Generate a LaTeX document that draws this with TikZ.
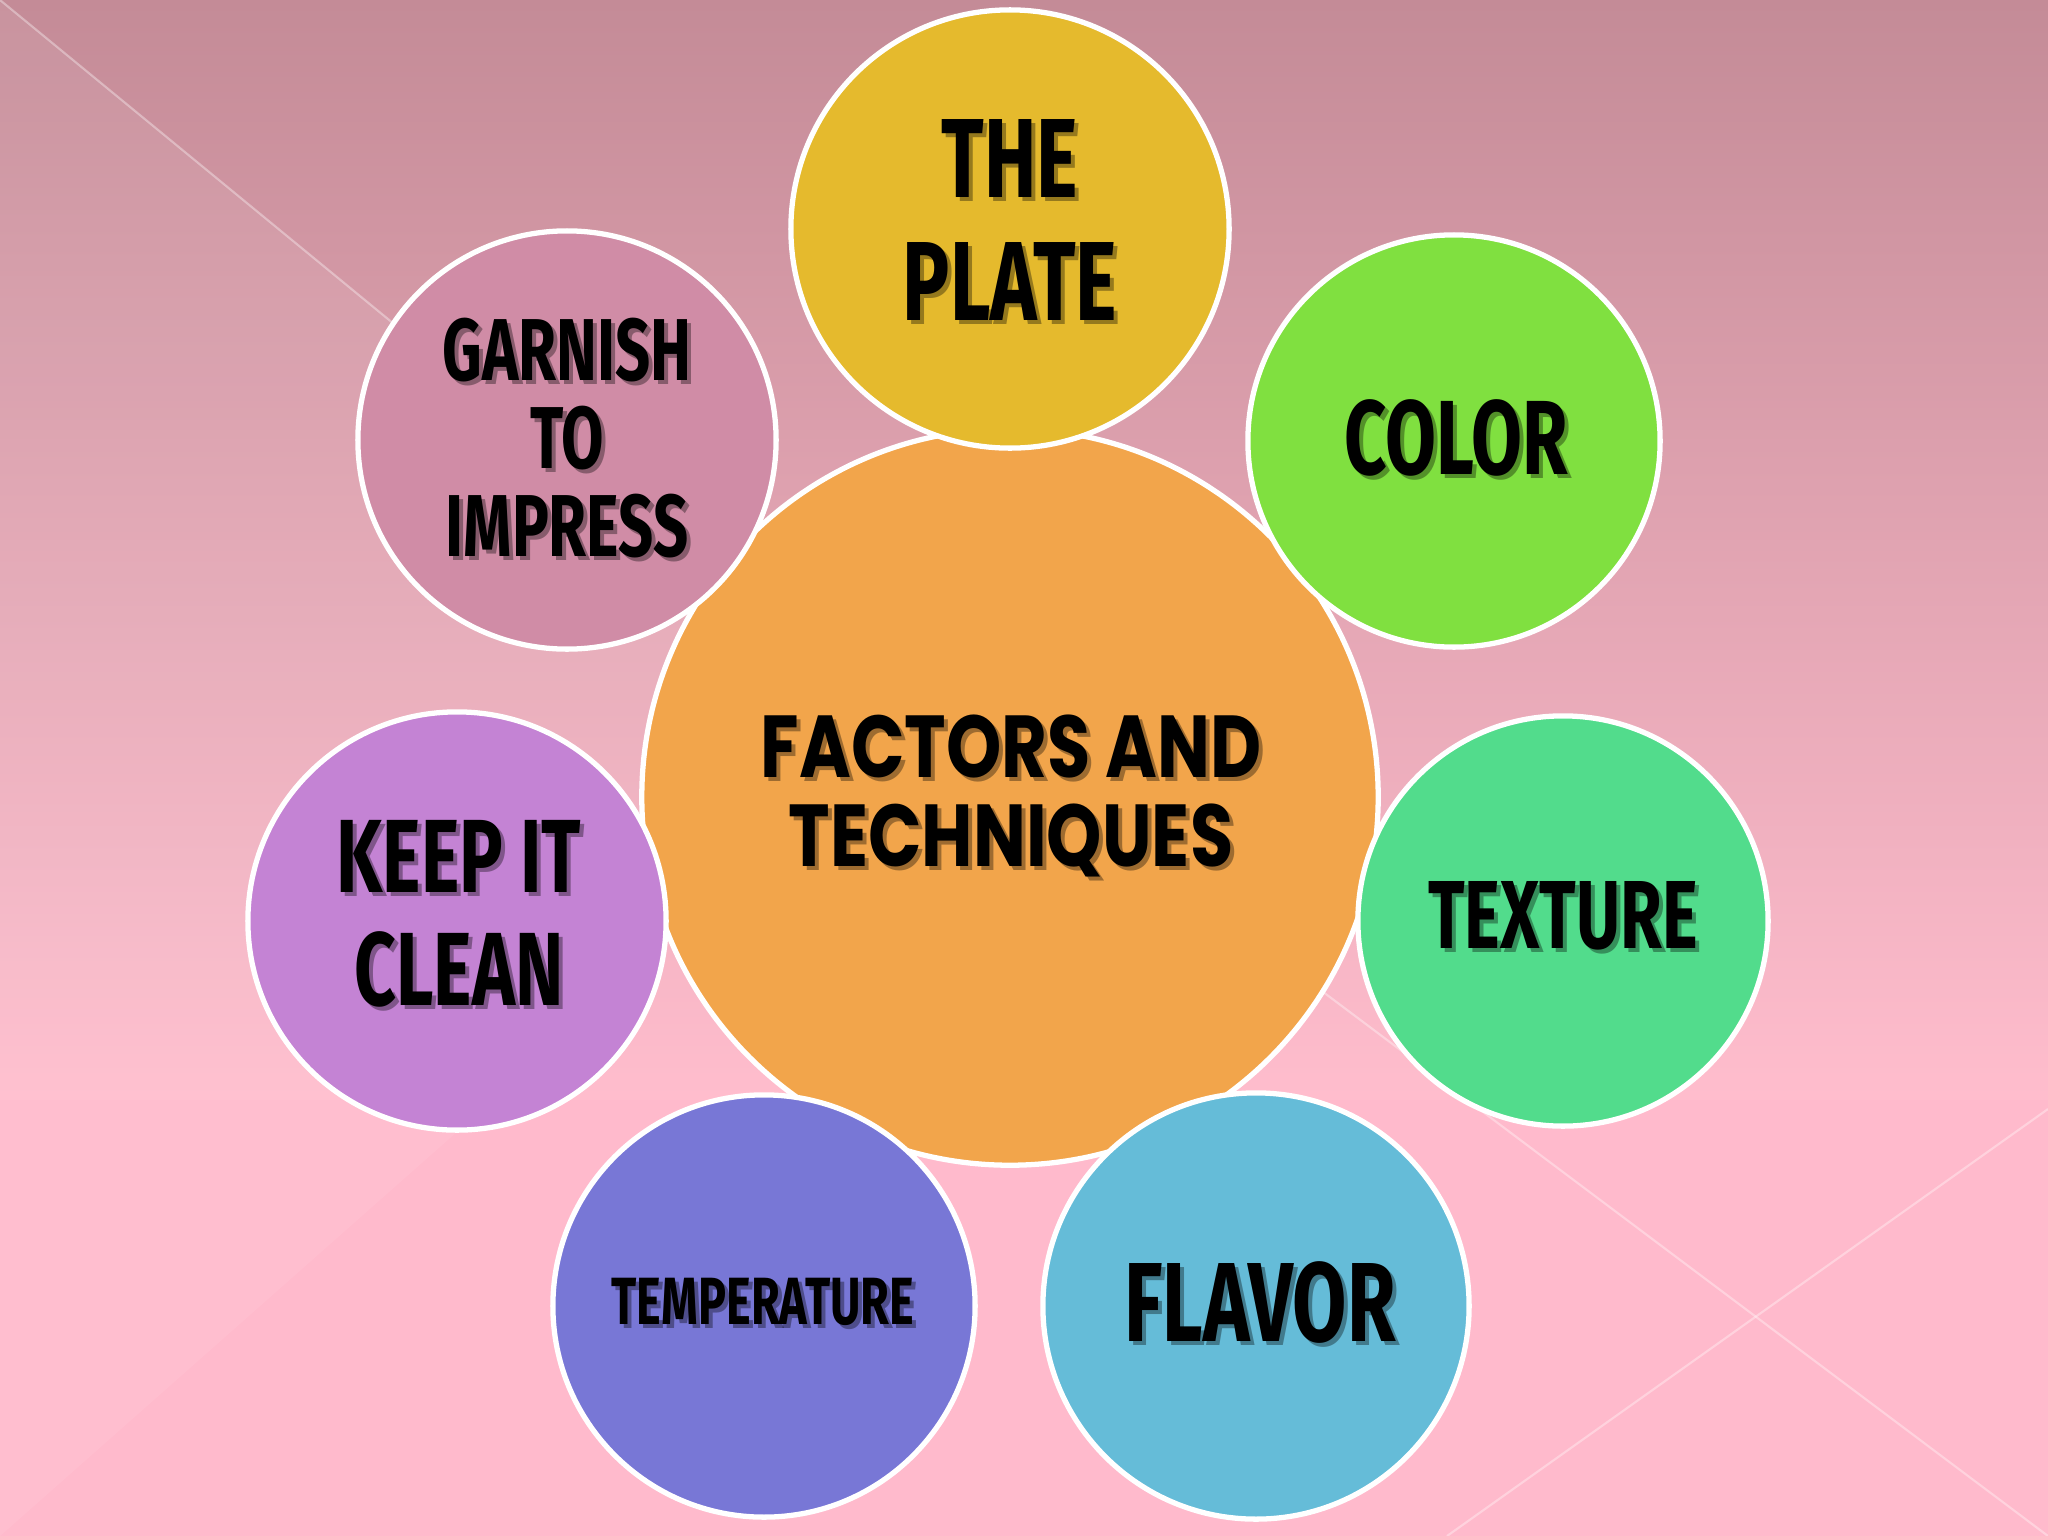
\documentclass[tikz,border=0pt]{standalone}
\usepackage{fontspec}
\newfontfamily\handfont{Fira Sans}[FakeStretch=0.7]
\newfontfamily\headfont{Poppins}[FakeStretch=0.8]
\definecolor{bgtop}{HTML}{C48B97}
\definecolor{bgmid}{HTML}{FFBDCD}
\definecolor{bgbot}{HTML}{FFBACC}
\definecolor{cplate}{HTML}{E5BA2D}
\definecolor{ccolor}{HTML}{80E040}
\definecolor{ctexture}{HTML}{52DC8C}
\definecolor{cflavor}{HTML}{65BCD8}
\definecolor{ctemp}{HTML}{7877D6}
\definecolor{ckeep}{HTML}{C483D4}
\definecolor{cgarnish}{HTML}{D08CA6}
\definecolor{ccenter}{HTML}{F2A54B}
\newcommand\bubtext[5]{%
  \node[shd, font=\handfont\bfseries\fontsize{#3}{#4}\selectfont] (#1-s) at ([shift={(4,4)}]#2) {#5};
  \node[txt, font=\handfont\bfseries\fontsize{#3}{#4}\selectfont] (#1-t) at (#2) {#5};
}
\begin{document}
\begin{tikzpicture}[x=0.01cm,y=-0.01cm,
  bub/.style={circle, draw=white, line width=1.5pt, inner sep=0pt},
  txt/.style={align=center, text=black, inner sep=0pt},
  shd/.style={align=center, text=black, text opacity=0.35, inner sep=0pt},
  bgline/.style={draw=white, draw opacity=0.35, line width=0.6pt}]
\useasboundingbox (0,0) rectangle (2048,1536);
% background
\shade[top color=bgtop, bottom color=bgmid] (0,0) rectangle (2048,1100);
\fill[bgbot] (0,1100) rectangle (2048,1536);
\coordinate (l0) at (0,0);
\coordinate (l1) at (900,740);
\fill[white, opacity=0.07] (l0) -- (l1) -- (0,1536) -- cycle;
\coordinate (la0) at (1010,757);
\coordinate (la1) at (2048,1536);
\coordinate (lb0) at (2048,1109);
\coordinate (lb1) at (1447,1536);
\draw[bgline] (l0) -- (l1);
\draw[bgline] (la0) -- (la1);
\draw[bgline] (lb0) -- (lb1);
% central circle
\node[bub, fill=ccenter, minimum size=7.36cm] (center) at (1010,797) {};
\node[shd, font=\headfont\bfseries\fontsize{25}{25.3}\selectfont] (center-s) at ([shift={(4,4)}]1011,796) {FACTORS AND\\TECHNIQUES};
\node[txt, font=\headfont\bfseries\fontsize{25}{25.3}\selectfont] (center-t) at (1011,796) {FACTORS AND\\TECHNIQUES};
% outer circles
\node[bub, fill=cplate, minimum size=4.38cm] (plate) at (1010,229) {};
\node[bub, fill=ccolor, minimum size=4.12cm] (color) at (1454,441) {};
\node[bub, fill=ctexture, minimum size=4.10cm] (texture) at (1563,921) {};
\node[bub, fill=cflavor, minimum size=4.26cm] (flavor) at (1256,1306) {};
\node[bub, fill=ctemp, minimum size=4.22cm] (temp) at (764,1306) {};
\node[bub, fill=ckeep, minimum size=4.18cm] (keep) at (457,921) {};
\node[bub, fill=cgarnish, minimum size=4.18cm] (garnish) at (567,440) {};
% labels
\bubtext{plate}{1010,220}{32}{34.7}{THE\\PLATE}
\bubtext{color}{1456,438}{30}{32}{COLOR}
\bubtext{texture}{1563,916}{27.5}{30}{TEXTURE}
\bubtext{flavor}{1260,1302}{32}{34}{FLAVOR}
\bubtext{temp}{763,1302}{19}{21}{TEMPERATURE}
\bubtext{keep}{459,914}{29.6}{32}{KEEP IT\\CLEAN}
\bubtext{garnish}{567,438}{25}{25}{GARNISH\\TO\\IMPRESS}
\end{tikzpicture}
\end{document}
